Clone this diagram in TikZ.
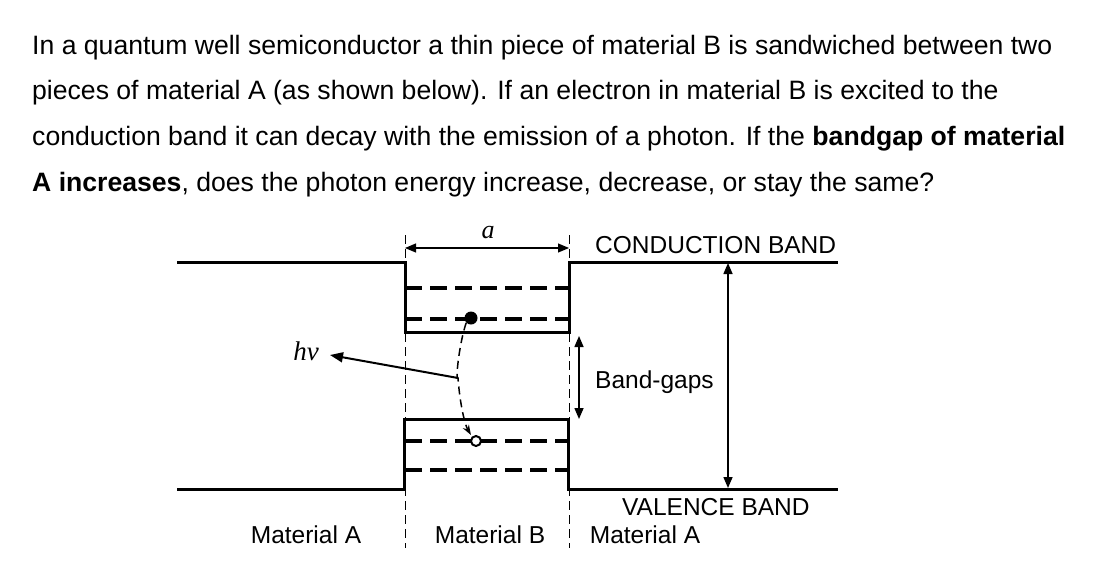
\documentclass[tikz,border=0pt]{standalone}
\usepackage{fontspec}
\setmainfont{Liberation Sans}
\newfontfamily\serifit{Liberation Serif}
\usetikzlibrary{arrows.meta}
\begin{document}
\begin{tikzpicture}[x=1pt,y=-1pt,
  band/.style={line width=3pt},
  lvl/.style={line width=3.4pt,dash pattern=on 17pt off 8pt},
  guide/.style={line width=0.8pt,dash pattern=on 9pt off 5pt},
  arr/.style={line width=1.5pt,{Triangle[length=11pt,width=9pt]}-{Triangle[length=11pt,width=9pt]}},
  q/.style={anchor=base west,font=\fontsize{26.6}{30}\selectfont,inner sep=0},
  lab/.style={font=\fontsize{24.5}{28}\selectfont,inner sep=0}]
\useasboundingbox (0,0) rectangle (1109,571);
\node[q] (l1) at (32,54) {In a quantum well semiconductor a thin piece of material B is sandwiched between two};
\node[q] (l2) at (32,99) {pieces of material A (as shown below). If an electron in material B is excited to the};
\node[q] (l3) at (32,145) {conduction band it can decay with the emission of a photon. If the \textbf{bandgap of material}};
\node[q] (l4) at (32,191) {\textbf{A increases}, does the photon energy increase, decrease, or stay the same?};
% guides
\draw[guide] (405,235) -- (405,548);
\draw[guide] (569,235) -- (569,548);
% conduction
\draw[band] (177,262) -- (405,262) -- (405,332) -- (569,332) -- (569,262) -- (838,262);
\draw[lvl] (405,288) -- (569,288);
\draw[lvl] (405,319) -- (569,319);
% valence
\draw[band] (177,489) -- (404,489) -- (404,419) -- (568,419) -- (568,489) -- (838,489);
\draw[lvl] (405,441) -- (569,441);
\draw[lvl] (405,470) -- (569,470);
% electron / hole
\node[circle,fill=black,inner sep=0,minimum size=13pt] (e) at (471,318) {};
\coordinate (k) at (458,378);
\draw[line width=1.5pt,dash pattern=on 8pt off 5pt,-{Stealth[length=10pt,width=7pt]}] (e.south west) .. controls (460,340) and (455,380) .. (k) .. controls (460,405) and (465,425) .. (471,435);
\node[circle,draw,fill=white,line width=2pt,inner sep=0,minimum size=10pt] (h) at (476,441) {};
% photon
\node[font=\serifit\itshape\fontsize{27}{30}\selectfont,inner sep=0] (hv) at (306,351) {hv};
\coordinate (hvt) at (330,355);
\draw[line width=2pt,-{Triangle[length=13pt,width=10pt]}] (k) -- (hvt);
% width a
\coordinate (a1) at (405,248); \coordinate (a2) at (569,248);
\draw[arr,line width=1.1pt] (a1) -- (a2);
\node[font=\serifit\itshape\fontsize{26}{30}\selectfont,inner sep=0] (a) at (488,233) {a};
% band gaps
\coordinate (g1) at (579,336); \coordinate (g2) at (579,419);
\draw[arr] (g1) -- (g2);
\node[lab,anchor=west] (bg) at (595,382) {Band-gaps};
\coordinate (G1) at (728,263); \coordinate (G2) at (728,488);
\draw[arr] (G1) -- (G2);
\node[lab,anchor=west] (cb) at (595,245) {CONDUCTION BAND};
\node[lab,anchor=west] (vb) at (622,507) {VALENCE BAND};
\node[lab] (ma1) at (306,535) {Material A};
\node[lab] (mb) at (490,535) {Material B};
\node[lab] (ma2) at (645,535) {Material A};
\end{tikzpicture}
\end{document}
